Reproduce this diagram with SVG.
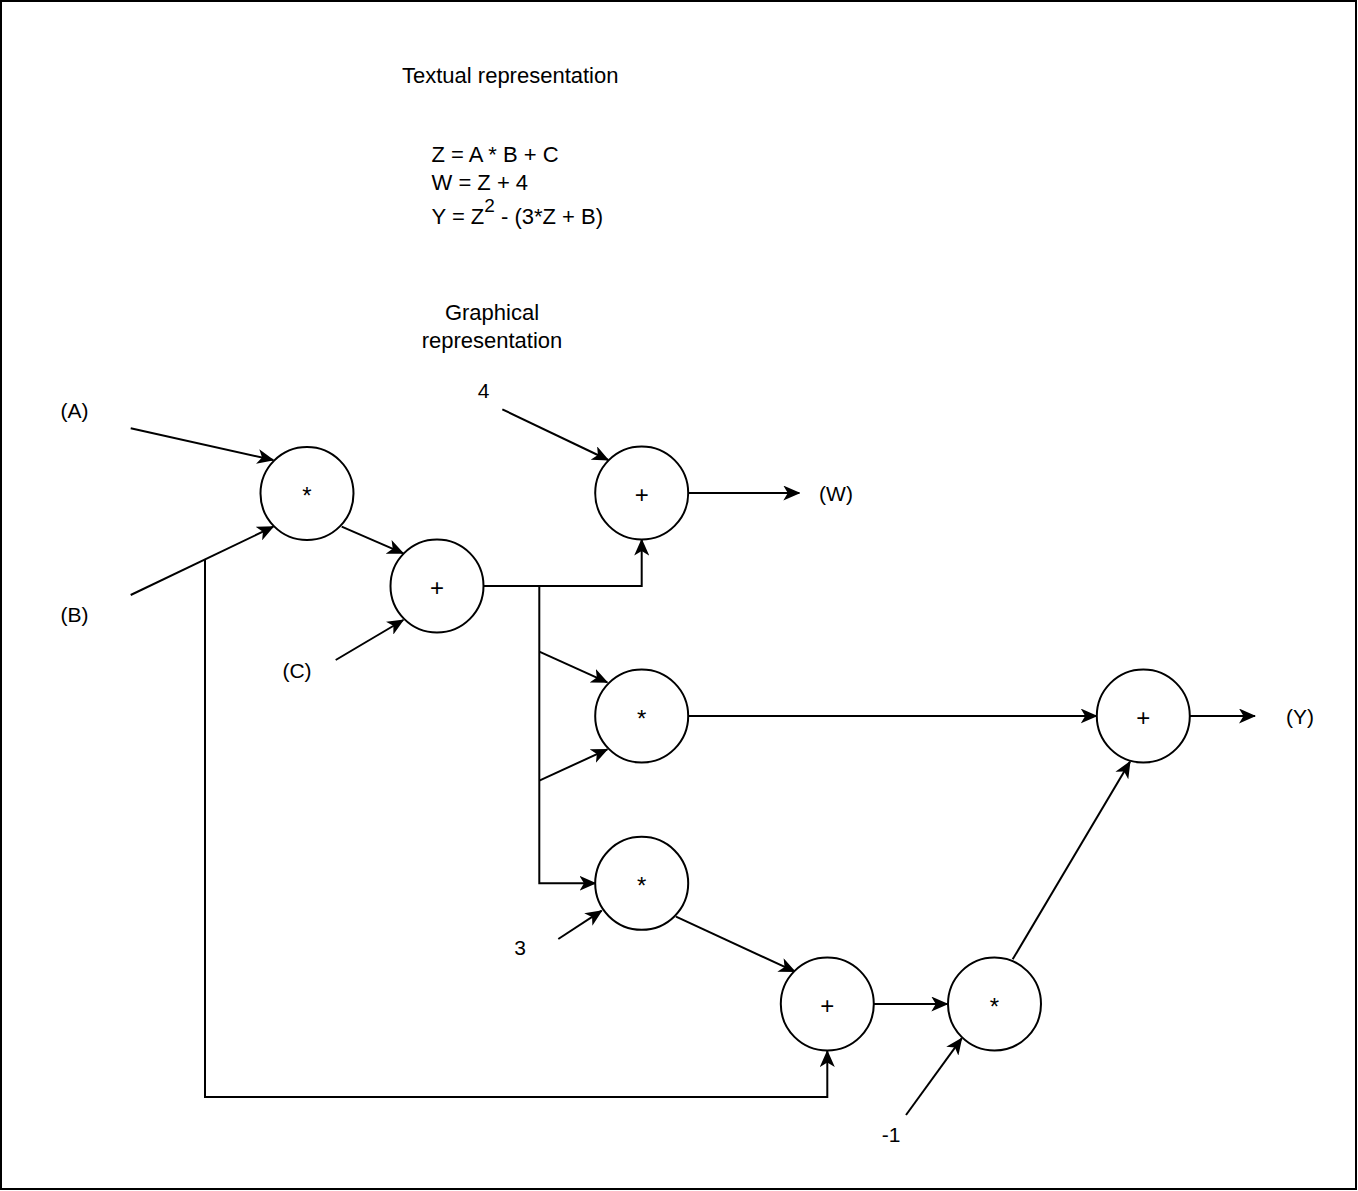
<svg xmlns="http://www.w3.org/2000/svg" width="1358" height="1191" viewBox="0 0 1358 1191">
<style>
text{font-family:"Liberation Sans",Arial,sans-serif;fill:#000}
.t{font-size:22px}
.l{font-size:21px;text-anchor:middle}
.op{font-size:24px;text-anchor:middle}
.n{fill:#fff;stroke:#000;stroke-width:2}
.c{fill:none;stroke:#000;stroke-width:2}
.a{marker-end:url(#arr)}
</style>
<defs>
<marker id="arr" markerUnits="userSpaceOnUse" markerWidth="17" markerHeight="15" viewBox="0 0 17 15" refX="16" refY="7.5" orient="auto">
<path d="M0,0 L17,7.5 L0,15 L4.5,7.5 Z" fill="#000"/>
</marker>
</defs>
<rect x="1" y="1" width="1355" height="1188" fill="#fff" stroke="#000" stroke-width="2"/>
<g id="texts">
<text class="t" x="402" y="82.5">Textual representation</text>
<text class="t" x="431.5" y="161.5">Z = A * B + C</text>
<text class="t" x="431.5" y="189.5">W = Z + 4</text>
<text class="t" x="431.5" y="223.5">Y = Z<tspan font-size="19" dy="-11.5">2</tspan><tspan dy="11.5"> - (3*Z + B)</tspan></text>
<text class="t" x="492" y="319.5" text-anchor="middle">Graphical</text>
<text class="t" x="492" y="347.5" text-anchor="middle">representation</text>
<text class="l" x="74.5" y="417.5">(A)</text>
<text class="l" x="74.5" y="621.5">(B)</text>
<text class="l" x="297" y="677.5">(C)</text>
<text class="l" x="483.5" y="397.5">4</text>
<text class="l" x="836" y="500.5">(W)</text>
<text class="l" x="1300" y="723.5">(Y)</text>
<text class="l" x="520" y="954.5">3</text>
<text class="l" x="891" y="1141.5">-1</text>
</g>
<g id="connectors">
<line class="c a" x1="130.7" y1="428.3" x2="273.3" y2="460"/>
<line class="c a" x1="130.7" y1="595" x2="273.3" y2="526.7"/>
<polyline class="c a" points="205,559.5 205,1097 827.3,1097 827.3,1051"/>
<line class="c a" x1="341.7" y1="526.7" x2="403.3" y2="553.3"/>
<line class="c a" x1="335.7" y1="660" x2="403.3" y2="620"/>
<polyline class="c a" points="484,586 641.7,586 641.7,539.5"/>
<polyline class="c a" points="539.3,586 539.3,883.3 595.5,883.3"/>
<line class="c a" x1="539.3" y1="651.7" x2="607.3" y2="682.3"/>
<line class="c a" x1="539.3" y1="780.7" x2="607.3" y2="749.3"/>
<line class="c a" x1="502.3" y1="409.3" x2="608.3" y2="460"/>
<line class="c a" x1="688.3" y1="493" x2="799.3" y2="493"/>
<line class="c a" x1="688.3" y1="716" x2="1096.7" y2="716"/>
<line class="c a" x1="1190" y1="716" x2="1255" y2="716"/>
<line class="c a" x1="558.3" y1="939" x2="601.7" y2="910.7"/>
<line class="c a" x1="676" y1="916.7" x2="795" y2="971.7"/>
<line class="c a" x1="874" y1="1004" x2="947.3" y2="1004"/>
<line class="c a" x1="906" y1="1115" x2="961.7" y2="1038.3"/>
<line class="c a" x1="1012.7" y1="959.3" x2="1130" y2="761.7"/>
</g>
<g id="mul1"><circle class="n" cx="307" cy="493.5" r="46.5"/><text class="op" x="307" y="504">*</text></g>
<g id="add1"><circle class="n" cx="437" cy="586" r="46.5"/><text class="op" x="437" y="595.5">+</text></g>
<g id="addW"><circle class="n" cx="641.7" cy="493" r="46.5"/><text class="op" x="641.7" y="502.5">+</text></g>
<g id="mulSq"><circle class="n" cx="641.7" cy="716" r="46.5"/><text class="op" x="641.7" y="726.5">*</text></g>
<g id="mul3"><circle class="n" cx="641.7" cy="883.3" r="46.5"/><text class="op" x="641.7" y="893.8">*</text></g>
<g id="addB"><circle class="n" cx="827.3" cy="1004" r="46.5"/><text class="op" x="827.3" y="1013.5">+</text></g>
<g id="mulNeg"><circle class="n" cx="994.5" cy="1004" r="46.5"/><text class="op" x="994.5" y="1014.5">*</text></g>
<g id="addY"><circle class="n" cx="1143.3" cy="716" r="46.5"/><text class="op" x="1143.3" y="725.5">+</text></g>
</svg>
